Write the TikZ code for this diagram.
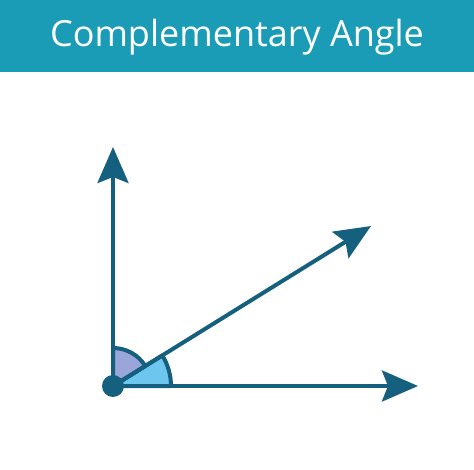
\documentclass[tikz,border=0pt]{standalone}
\usepackage{fontspec}
\setmainfont{Open Sans}
\usetikzlibrary{arrows.meta}
\definecolor{band}{HTML}{1A9CB6}
\definecolor{ray}{HTML}{16607F}
\definecolor{purp}{HTML}{9AA6D9}
\definecolor{lblue}{HTML}{6CC6EE}
\tikzset{
  rayline/.style={draw=ray, line width=4pt, -{Stealth[length=36pt,width=31pt,inset=6pt]}},
  sector/.style={draw=ray, line width=4pt, line join=round},
}
\begin{document}
\begin{tikzpicture}[x=1pt,y=-1pt]
\useasboundingbox (0,0) rectangle (474,470);
\fill[band] (0,0) rectangle (474,72);
\node[text=white, font=\fontsize{36}{40}\selectfont] (title) at (237,37) {Complementary Angle};
\coordinate (O) at (113,386);
\coordinate (U) at (113,147);
\coordinate (R) at (418,386);
\coordinate (D) at (371,226);
\filldraw[sector, fill=lblue] (O) -- ++(0:58) arc[start angle=0, end angle=-31.8, radius=58] -- cycle;
\filldraw[sector, fill=purp] (O) -- ++(-31.8:38) arc[start angle=-31.8, end angle=-90, radius=38] -- cycle;
\draw[rayline] (O) -- (U);
\draw[rayline] (O) -- (R);
\draw[rayline] (O) -- (D);
\fill[ray] (O) circle[radius=11];
\end{tikzpicture}
\end{document}
